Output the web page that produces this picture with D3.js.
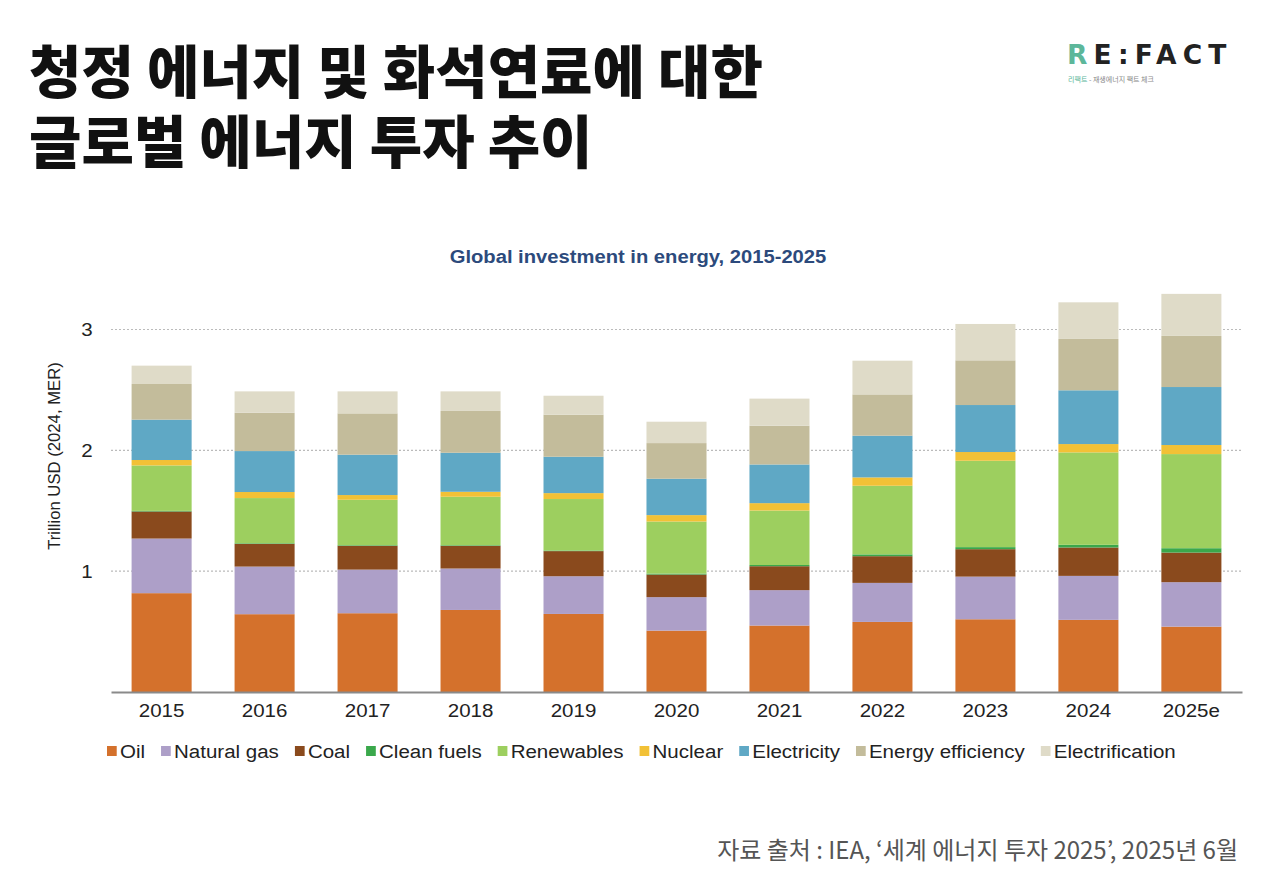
<!DOCTYPE html>
<html>
<head>
<meta charset="utf-8">
<script src="https://cdn.jsdelivr.net/npm/d3@7"></script>
<style>
  body { margin: 0; background: #fff; }
  #chart { width: 1280px; height: 891px; }
</style>
</head>
<body>
<div id="chart"></div>
<script>
// categories and series (trillion USD, 2024 MER)
const years = ["2015", "2016", "2017", "2018", "2019", "2020", "2021", "2022", "2023", "2024", "2025e"];
const series = ["Oil", "Natural gas", "Coal", "Clean fuels", "Renewables", "Nuclear", "Electricity", "Energy efficiency", "Electrification"];
const oil =         [0.818, 0.644, 0.652, 0.679, 0.646, 0.508, 0.550, 0.580, 0.602, 0.597, 0.541];
const naturalGas =  [0.452, 0.394, 0.361, 0.343, 0.312, 0.277, 0.293, 0.323, 0.353, 0.364, 0.368];
const coal =        [0.224, 0.188, 0.197, 0.188, 0.208, 0.187, 0.198, 0.221, 0.227, 0.235, 0.245];
const cleanFuels =  [0.005, 0.005, 0.005, 0.005, 0.005, 0.008, 0.010, 0.015, 0.017, 0.022, 0.036];
const renewables =  [0.376, 0.374, 0.376, 0.401, 0.426, 0.431, 0.451, 0.568, 0.715, 0.765, 0.779];
const nuclear =     [0.045, 0.050, 0.039, 0.041, 0.049, 0.053, 0.061, 0.069, 0.072, 0.069, 0.075];
const electricity = [0.334, 0.339, 0.334, 0.323, 0.301, 0.301, 0.320, 0.345, 0.389, 0.445, 0.480];
const efficiency =  [0.295, 0.317, 0.342, 0.346, 0.348, 0.295, 0.321, 0.342, 0.370, 0.425, 0.423];
const electrif =    [0.152, 0.177, 0.182, 0.162, 0.157, 0.177, 0.224, 0.279, 0.301, 0.303, 0.348];
const yTicks = [1, 2, 3];

const seriesValues = [oil, naturalGas, coal, cleanFuels, renewables, nuclear, electricity, efficiency, electrif];
const colors = ["#d4712c", "#ad9fc8", "#8a4a1d", "#3aa84b", "#9dcf5f", "#f2c136", "#5fa8c5", "#c3bc9b", "#dfdbc8"];

// build table for d3.stack
const table = years.map((y, i) => {
    let row = {year: y};
    series.forEach((s, j) => row[s] = seriesValues[j][i]);
    return row;
});

const W = 1280, H = 891;
const svg = d3.select("#chart").append("svg")
    .attr("width", W)
    .attr("height", H);

const sans = "'Liberation Sans', Arial, sans-serif";
const kr = "'Noto Sans CJK KR', 'Noto Sans', sans-serif";
const sx = 1.08;   // chart image in the reference is slightly wider than tall

// page title
svg.selectAll(".headline")
    .data(["청정 에너지 및 화석연료에 대한", "글로벌 에너지 투자 추이"])
    .join("text")
    .attr("class", "headline")
    .attr("x", 29)
    .attr("y", (d, i) => 93 + i * 70)
    .attr("font-family", kr)
    .attr("font-weight", 900)
    .attr("font-size", 57)
    .attr("fill", "#111")
    .text(d => d);

// logo
const logo = svg.append("g").attr("transform", "translate(1067,64)");
logo.append("text")
    .attr("font-family", "'DejaVu Sans', sans-serif")
    .attr("font-weight", 700)
    .attr("font-size", 26.5)
    .attr("fill", "#222")
    .attr("letter-spacing", 6.2)
    .html('<tspan fill="#5db79a">R</tspan>E:FACT');
logo.append("text")
    .attr("x", 1)
    .attr("y", 18)
    .attr("font-family", kr)
    .attr("font-size", 7)
    .attr("fill", "#888")
    .html('<tspan fill="#5db79a">리팩트</tspan> - 재생에너지 팩트 체크');

// chart
const margin = {top: 290, left: 111, right: 38, bottom: 199};
const width = W - margin.left - margin.right;
const height = H - margin.top - margin.bottom;
const g = svg.append("g").attr("transform", `translate(${margin.left},${margin.top})`);

const x = d3.scaleBand()
    .domain(years)
    .range([0, width])
    .paddingInner(0.417)
    .paddingOuter(0.2);

const y = d3.scaleLinear()
    .domain([0, 3.327])
    .range([height, 0]);

// chart title
svg.append("text")
    .attr("transform", `translate(638,263) scale(${sx},1)`)
    .attr("text-anchor", "middle")
    .attr("font-family", sans)
    .attr("font-weight", 700)
    .attr("font-size", 18.7)
    .attr("fill", "#2c4a7c")
    .text("Global investment in energy, 2015-2025");

// gridlines
g.append("g")
    .selectAll("line")
    .data(yTicks)
    .join("line")
    .attr("x1", 0)
    .attr("x2", width)
    .attr("y1", d => y(d))
    .attr("y2", d => y(d))
    .attr("stroke", "#bbb")
    .attr("stroke-width", 1.2)
    .attr("stroke-dasharray", "2,2");

// stacked bars
const stacked = d3.stack().keys(series)(table);
g.append("g")
    .selectAll("g")
    .data(stacked)
    .join("g")
    .attr("fill", (d, i) => colors[i])
    .selectAll("rect")
    .data(d => d)
    .join("rect")
    .attr("x", d => x(d.data.year))
    .attr("width", x.bandwidth())
    .attr("y", d => y(d[1]))
    .attr("height", d => y(d[0]) - y(d[1]));

// axes
const xAxis = g.append("g")
    .attr("transform", `translate(0,${height})`)
    .call(d3.axisBottom(x).tickSize(0).tickPadding(12));
xAxis.select(".domain").attr("stroke", "#8a8a8a").attr("stroke-width", 2);
xAxis.selectAll("text")
    .attr("transform", `scale(${sx},1)`)
    .attr("font-family", sans)
    .attr("font-size", 19)
    .attr("fill", "#222");

const yAxis = g.append("g")
    .call(d3.axisLeft(y).tickValues(yTicks).tickFormat(d3.format("d")).tickSize(0).tickPadding(17));
yAxis.select(".domain").remove();
yAxis.selectAll("text")
    .attr("transform", `scale(${sx},1)`)
    .attr("font-family", sans)
    .attr("font-size", 19)
    .attr("fill", "#222");

svg.append("text")
    .attr("transform", `translate(60,456) rotate(-90)`)
    .attr("text-anchor", "middle")
    .attr("font-family", sans)
    .attr("font-size", 16.7)
    .attr("fill", "#222")
    .text("Trillion USD (2024, MER)");

// legend
const legend = svg.append("g");
let lx = 0;
const items = legend.selectAll("g")
    .data(series)
    .join("g");
items.append("rect")
    .attr("y", -12)
    .attr("width", 9)
    .attr("height", 10)
    .attr("fill", (d, i) => colors[i]);
items.append("text")
    .attr("x", 12)
    .attr("font-family", sans)
    .attr("font-size", 19)
    .attr("fill", "#222")
    .text(d => d);
items.each(function () {
    d3.select(this).attr("transform", `translate(${lx},0)`);
    lx += 12 + d3.select(this).select("text").node().getComputedTextLength() + 14.8;
});
legend.attr("transform", `translate(107,758) scale(${sx},1)`);

// source
svg.append("text")
    .attr("x", 1238)
    .attr("y", 859)
    .attr("text-anchor", "end")
    .attr("font-family", kr)
    .attr("font-size", 24)
    .attr("fill", "#555")
    .text("자료 출처 : IEA, ‘세계 에너지 투자 2025’, 2025년 6월");
</script>
</body>
</html>
